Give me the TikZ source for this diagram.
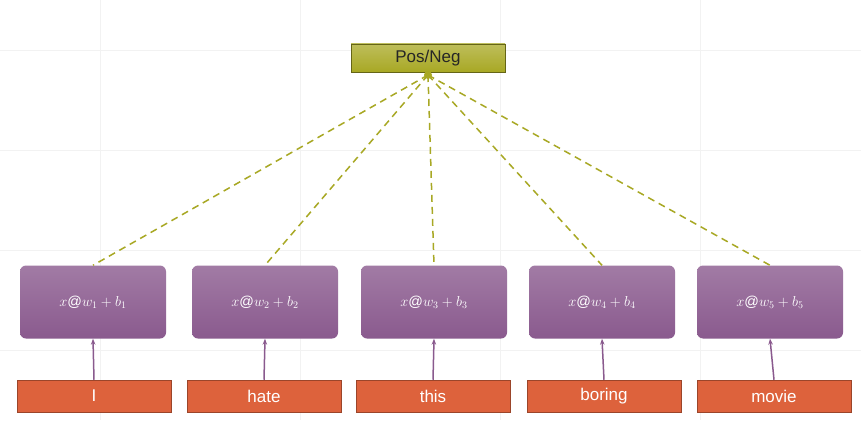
\documentclass[tikz,border=0pt]{standalone}
\usepackage{fontspec}
\setmainfont{Liberation Sans}
\usetikzlibrary{arrows.meta}
\definecolor{olv}{HTML}{A8A824}
\definecolor{purp}{HTML}{8A5A8E}
\definecolor{orng}{HTML}{DD623C}
\begin{document}
\begin{tikzpicture}[x=1pt,y=-1pt,
 fx/.style={draw=none,rounded corners=6pt,top color=purp!80!white,bottom color=purp,minimum width=146pt,minimum height=73pt,text=white,font=\Large},
 wd/.style={draw=orng!70!black,line width=0.5pt,fill=orng,minimum width=154pt,minimum height=32pt,text=white,font=\fontsize{17}{20}\selectfont},
 dl/.style={olv,dashed,dash pattern=on 7pt off 5pt,line width=1.5pt},
 ar/.style={purp,line width=1.5pt,-{Stealth[length=6pt]}}]
\useasboundingbox (0,0) rectangle (861,420);
\fill[white] (0,0) rectangle (861,420);
\foreach \x in {100,300,500,700} \draw[black!5] (\x,0) -- (\x,420);
\foreach \y in {50,150,250,350} \draw[black!5] (0,\y) -- (861,\y);
\node[draw=olv!60!black,top color=olv!75!white,bottom color=olv,minimum width=154pt,minimum height=28pt,font=\fontsize{17}{20}\selectfont,text=black!85] (top) at (428,58) {Pos/Neg};
\coordinate (c) at (428,75);
\fill[olv] (c) circle (4pt);
\foreach \i/\x/\w/\t in {1/93/94/I,2/265/264/hate,3/434/433/this,4/602/604/boring,5/770/774/movie}{
 \node[fx] (f\i) at (\x,302) {$x@w_\i+b_\i$};
 \node[wd] (w\i) at (\w,396) {\t};
 \draw[dl] (c) -- (f\i.north);
 \draw[ar] (w\i.north) -- (f\i.south);
}
\end{tikzpicture}
\end{document}
